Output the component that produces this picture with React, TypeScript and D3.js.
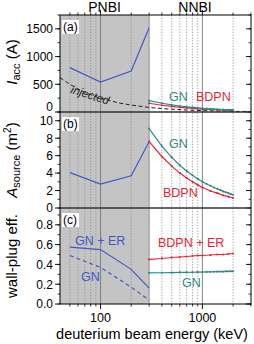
import React from "react";
import * as d3 from "d3";

// ---------- data ----------
const pnbiE = [50, 100, 200, 300];
const pnbiIacc = [800, 540, 740, 1520];
const pnbiArea = [4.05, 2.75, 3.7, 7.6];
const pnbiEffER = [0.575, 0.55, 0.35, 0.16];
const pnbiEffGN = [0.49, 0.37, 0.17, 0.04];

const injE = [40, 50, 60, 70, 80, 90, 100, 150, 200, 300, 400, 500, 700, 1000, 1500, 2000, 3000];
const injI = [620, 500, 415, 355, 310, 275, 250, 165, 125, 83, 62, 50, 36, 25, 17, 12, 8];

const gnE = [300, 400, 500, 600, 700, 800, 900, 1000, 1100, 1200, 1300, 1400, 1500, 1600, 1700, 1800, 1900, 2000];
const gnIacc = [205, 158, 128, 108, 93, 82, 73, 66, 60, 56, 52, 48, 45, 43, 41, 39, 37, 35];
const gnArea = [9.1, 7.1, 5.8, 4.9, 4.25, 3.75, 3.35, 3.0, 2.75, 2.55, 2.35, 2.2, 2.05, 1.9, 1.8, 1.7, 1.6, 1.52];
const gnEff = [0.315, 0.316, 0.318, 0.319, 0.32, 0.321, 0.322, 0.323, 0.324, 0.325, 0.326, 0.327, 0.328, 0.328, 0.329, 0.33, 0.33, 0.331];

const bdE = [300, 400, 500, 600, 700, 800, 900, 1000, 1200, 1400, 1600, 1800, 2000];
const bdIacc = [158, 122, 100, 85, 74, 65, 58, 53, 45, 40, 36, 33, 30];
const bdArea = [7.6, 5.9, 4.8, 4.0, 3.45, 3.0, 2.65, 2.35, 1.95, 1.7, 1.45, 1.3, 1.15];
const bdEff = [0.45, 0.46, 0.47, 0.475, 0.48, 0.485, 0.49, 0.49, 0.495, 0.5, 0.5, 0.505, 0.51];

const dottedE = [50, 60, 70, 80, 90, 200, 400, 500, 600, 700, 800, 900, 2000];
const solidE = [100, 1000];
const xMinorE = [50, 60, 70, 80, 90, 200, 300, 400, 500, 600, 700, 800, 900, 2000, 3000];
const xLabels = [100, 1000];

const aTicks = [0, 500, 1000, 1500];
const bTicks = [0, 2, 4, 6, 8, 10];
const cTicks = [0, 0.2, 0.4, 0.6, 0.8];

// ---------- layout ----------
const W = 254, H = 344;
const L = 60, R = 251;
const TOP = 15, AB = 112, BC = 208, BOT = 304;
const BLUE = "#4358c4", RED = "#e52636", TEAL = "#2f8a86";
const FONT = "Liberation Sans, Arial, sans-serif";

const x = d3.scaleLog().domain([40, 3000]).range([L, R]);
const ya = d3.scaleLinear().domain([0, 1750]).range([AB, TOP]);
const yb = d3.scaleLinear().domain([0, 11]).range([BC, AB]);
const yc = d3.scaleLinear().domain([0, 0.97]).range([BOT, BC]);

function path(xs: number[], ys: number[], y: d3.ScaleLinear<number, number>) {
  const g = d3.line<number>().x((_, i) => x(xs[i])).y((v) => y(v));
  return g(ys) || "";
}

function Series({ xs, ys, y, color, dash, markers }: any) {
  return (
    <g>
      <path d={path(xs, ys, y)} fill="none" stroke={color} strokeWidth={1.2} strokeDasharray={dash} />
      {markers && xs.map((e: number, i: number) => (
        <circle key={i} cx={x(e)} cy={y(ys[i])} r={1.1} fill={color} />
      ))}
    </g>
  );
}

function YAxis({ y, ticks, minor, fmt, shiftZero }: any) {
  const d = y.domain();
  const minors = d3.range(0, d[1] + 1e-9, minor);
  return (
    <g>
      {minors.map((v: number, i: number) => (
        <g key={"m" + i}>
          <line x1={L - 2.5} x2={L} y1={y(v)} y2={y(v)} stroke="#000" strokeWidth={0.8} />
          <line x1={R - 2.5} x2={R} y1={y(v)} y2={y(v)} stroke="#000" strokeWidth={0.8} />
        </g>
      ))}
      {ticks.map((v: number, i: number) => (
        <g key={i}>
          <line x1={L - 5} x2={L} y1={y(v)} y2={y(v)} stroke="#000" strokeWidth={0.9} />
          <line x1={R - 5} x2={R} y1={y(v)} y2={y(v)} stroke="#000" strokeWidth={0.9} />
          <text x={L - 7} y={y(v) - (v === 0 && shiftZero ? 5 : 0)} dy="0.36em" textAnchor="end" fontSize={12} fontFamily={FONT}>{fmt(v)}</text>
        </g>
      ))}
    </g>
  );
}

function PanelLabel({ t, yTop }: any) {
  return (
    <g>
      <rect x={L + 2} y={yTop + 5} width={17} height={14} fill="#fff" />
      <text x={L + 3} y={yTop + 16} fontSize={12} fontFamily={FONT}>{t}</text>
    </g>
  );
}

export default function App() {
  return (
    <svg width={W} height={H} style={{ position: "absolute", left: 0, top: 0, background: "#fff" }}>
      {/* gray PNBI region */}
      <rect x={x(40)} y={TOP} width={x(300) - x(40)} height={BOT - TOP} fill="#c4c4c4" />
      {/* vertical grid lines */}
      {dottedE.map((e, i) => (
        <line key={i} x1={x(e)} x2={x(e)} y1={TOP} y2={BOT} stroke="#8c8c8c" strokeWidth={0.8} strokeDasharray="1.2,1.6" />
      ))}
      {solidE.map((e, i) => (
        <line key={i} x1={x(e)} x2={x(e)} y1={TOP} y2={BOT} stroke="#777" strokeWidth={0.9} />
      ))}
      <line x1={x(300)} x2={x(300)} y1={TOP} y2={BOT} stroke="#888" strokeWidth={0.9} />

      {/* panel a */}
      <path d={path(injE, injI, ya)} fill="none" stroke="#222" strokeWidth={1} strokeDasharray="4,2.5" />
      <Series xs={pnbiE} ys={pnbiIacc} y={ya} color={BLUE} />
      <Series xs={bdE} ys={bdIacc} y={ya} color={RED} markers />
      <Series xs={gnE} ys={gnIacc} y={ya} color={TEAL} markers />
      <text x={70} y={93} fontSize={11.5} fontFamily={FONT} fontStyle="italic" fill="#222" transform="rotate(17 70 93)">injected</text>
      <text x={169} y={101} fontSize={12.5} fontFamily={FONT} fill={TEAL}>GN</text>
      <text x={196} y={101} fontSize={12.5} fontFamily={FONT} fill={RED}>BDPN</text>

      {/* panel b */}
      <Series xs={pnbiE} ys={pnbiArea} y={yb} color={BLUE} />
      <Series xs={bdE} ys={bdArea} y={yb} color={RED} markers />
      <Series xs={gnE} ys={gnArea} y={yb} color={TEAL} markers />
      <text x={169} y={148} fontSize={12.5} fontFamily={FONT} fill={TEAL}>GN</text>
      <text x={163} y={197} fontSize={12.5} fontFamily={FONT} fill={RED}>BDPN</text>

      {/* panel c */}
      <Series xs={pnbiE} ys={pnbiEffER} y={yc} color={BLUE} />
      <Series xs={pnbiE} ys={pnbiEffGN} y={yc} color={BLUE} dash="4,3" />
      <Series xs={bdE} ys={bdEff} y={yc} color={RED} markers />
      <Series xs={gnE} ys={gnEff} y={yc} color={TEAL} markers />
      <text x={75} y={245} fontSize={12.5} fontFamily={FONT} fill={BLUE}>GN + ER</text>
      <text x={81} y={281} fontSize={12.5} fontFamily={FONT} fill={BLUE}>GN</text>
      <text x={158} y={247} fontSize={12.5} fontFamily={FONT} fill={RED}>BDPN + ER</text>
      <text x={182} y={287} fontSize={12.5} fontFamily={FONT} fill={TEAL}>GN</text>

      {/* panel labels */}
      <PanelLabel t="(a)" yTop={TOP} />
      <PanelLabel t="(b)" yTop={AB} />
      <PanelLabel t="(c)" yTop={BC} />

      {/* y axes */}
      <YAxis y={ya} ticks={aTicks} minor={250} fmt={(v: number) => String(v)} shiftZero />
      <YAxis y={yb} ticks={bTicks} minor={1} fmt={(v: number) => String(v)} />
      <YAxis y={yc} ticks={cTicks} minor={0.1} fmt={(v: number) => v.toFixed(1)} />

      {/* x ticks bottom & top */}
      {xMinorE.map((e, i) => (
        <g key={i}>
          <line x1={x(e)} x2={x(e)} y1={BOT} y2={BOT + 2.5} stroke="#000" strokeWidth={0.8} />
          <line x1={x(e)} x2={x(e)} y1={TOP} y2={TOP - 2.5} stroke="#000" strokeWidth={0.8} />
        </g>
      ))}
      {xLabels.map((e, i) => (
        <g key={i}>
          <line x1={x(e)} x2={x(e)} y1={BOT} y2={BOT + 5} stroke="#000" strokeWidth={0.9} />
          <line x1={x(e)} x2={x(e)} y1={TOP} y2={TOP - 5} stroke="#000" strokeWidth={0.9} />
          <text x={x(e)} y={BOT + 18} textAnchor="middle" fontSize={12.5} fontFamily={FONT}>{e}</text>
        </g>
      ))}

      {/* panel separators and frame */}
      <line x1={L} x2={R} y1={AB} y2={AB} stroke="#333" strokeWidth={1.6} />
      <line x1={L} x2={R} y1={BC} y2={BC} stroke="#333" strokeWidth={1.6} />
      <rect x={L} y={TOP} width={R - L} height={BOT - TOP} fill="none" stroke="#000" strokeWidth={1} />

      {/* titles */}
      <text x={(x(40) + x(300)) / 2} y={11.5} textAnchor="middle" fontSize={14} fontFamily={FONT}>PNBI</text>
      <text x={195} y={11.5} textAnchor="middle" fontSize={14} fontFamily={FONT}>NNBI</text>
      <text x={152} y={339} textAnchor="middle" fontSize={14.5} fontFamily={FONT}>deuterium beam energy (keV)</text>

      <text transform="translate(17,62) rotate(-90)" textAnchor="middle" fontSize={15} fontFamily={FONT}>
        <tspan fontStyle="italic">I</tspan>
        <tspan fontSize={11} dy={3}>acc</tspan>
        <tspan dy={-3}> (A)</tspan>
      </text>
      <text transform="translate(17,160) rotate(-90)" textAnchor="middle" fontSize={15} fontFamily={FONT}>
        <tspan fontStyle="italic">A</tspan>
        <tspan fontSize={11} dy={3}>source</tspan>
        <tspan dy={-3}> (m</tspan>
        <tspan fontSize={10} dy={-6}>2</tspan>
        <tspan dy={6}>)</tspan>
      </text>
      <text transform="translate(17,256) rotate(-90)" textAnchor="middle" fontSize={15} fontFamily={FONT}>wall-plug eff.</text>
    </svg>
  );
}
